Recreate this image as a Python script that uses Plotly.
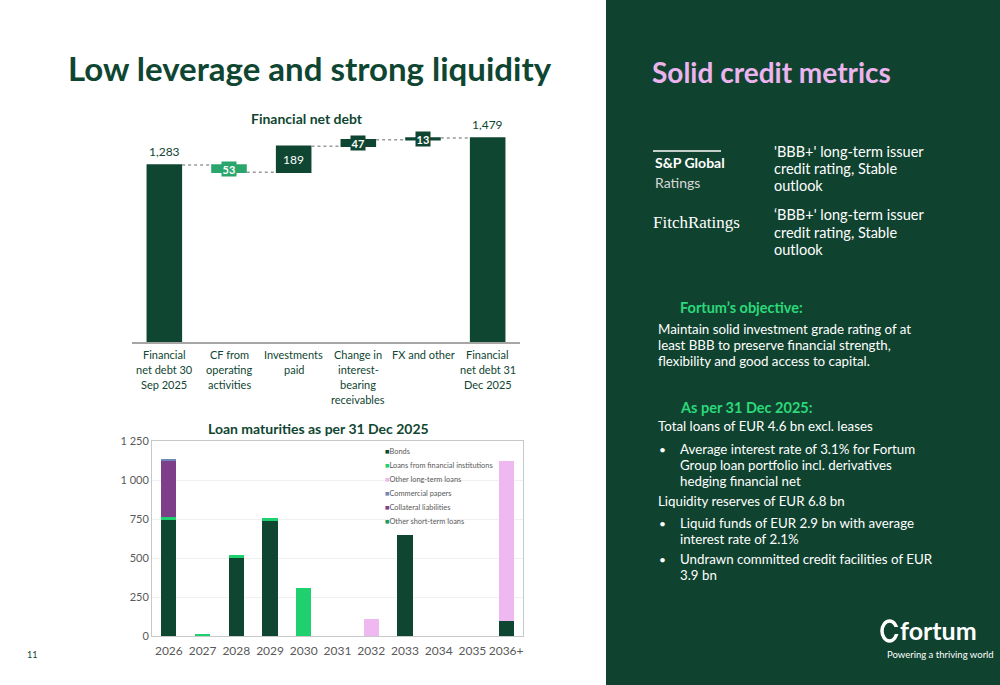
import plotly.graph_objects as go

W, H = 1000, 685
def px(x): return x / W
def py(y): return 1 - y / H

# ---------------- data ----------------
wf_categories = ["Financial<br>net debt 30<br>Sep 2025", "CF from<br>operating<br>activities",
                 "Investments<br>paid", "Change in<br>interest-<br>bearing<br>receivables",
                 "FX and other", "Financial<br>net debt 31<br>Dec 2025"]
wf_measures = ["absolute", "relative", "relative", "relative", "relative", "total"]
wf_values = [1283, -53, 189, 47, 13, 1479]

years = ["2026", "2027", "2028", "2029", "2030", "2031", "2032", "2033", "2034", "2035", "2036+"]
bonds =             [745, 0,  500, 740, 0,   0, 0,   650, 0, 0, 95]
loans_fi =          [18,  15, 18,  15,  310, 0, 0,   0,   0, 0, 0]
other_long_term =   [0,   0,  0,   0,   0,   0, 110, 0,   0, 0, 1030]
commercial_papers = [7,   0,  0,   0,   0,   0, 0,   0,   0, 0, 0]
collateral =        [362, 0,  0,   0,   0,   0, 0,   0,   0, 0, 0]
other_short_term =  [0,   0,  0,   0,   0,   0, 0,   0,   0, 0, 0]
y_ticks = [0, 250, 500, 750, 1000, 1250]
y_tick_labels = ["0", "250", "500", "750", "1 000", "1 250"]

DARK = "#0f4632"
MID_GREEN = "#2aa56b"
BRIGHT_GREEN = "#1ed06e"
PINK = "#efb8f0"
PURPLE = "#7d3f88"
SLATE = "#6f87b8"
TEAL = "#1a9a66"
GRAY_TXT = "#595959"
PANEL = "#10432f"
FONT = "Lato"

fig = go.Figure()

# ---------------- waterfall ----------------
fig.add_trace(go.Waterfall(
    x=wf_categories, y=wf_values, measure=wf_measures,
    increasing=dict(marker=dict(color=DARK)),
    decreasing=dict(marker=dict(color=MID_GREEN)),
    totals=dict(marker=dict(color=DARK)),
    connector=dict(line=dict(color="#9a9a9a", width=1.5, dash="dot")),
    textinfo="none", hoverinfo="skip",
    xaxis="x", yaxis="y", showlegend=False,
))

annotations = []
level = 0
for cat, m, v in zip(wf_categories, wf_measures, wf_values):
    # category label lines, 15 px apart below the axis
    for j, line in enumerate(cat.split("<br>")):
        annotations.append(dict(x=cat, y=0, xref="x", yref="y", text=line, showarrow=False,
                                yanchor="middle", yshift=-(12 + 15 * j),
                                font=dict(family=FONT, size=11, color=DARK)))
    if m == "absolute":
        level = v
        annotations.append(dict(x=cat, y=v, xref="x", yref="y", text=f"{v:,}",
                                showarrow=False, yanchor="bottom", yshift=4,
                                font=dict(family=FONT, size=12, color=DARK)))
    elif m == "total":
        annotations.append(dict(x=cat, y=level, xref="x", yref="y", text=f"{level:,}",
                                showarrow=False, yanchor="bottom", yshift=4,
                                font=dict(family=FONT, size=12, color=DARK)))
    else:
        start, end = level, level + v
        mid = (start + end) / 2
        col = DARK if v > 0 else MID_GREEN
        if abs(v) >= 100:
            annotations.append(dict(x=cat, y=mid, xref="x", yref="y", text=f"{abs(v)}",
                                    showarrow=False,
                                    font=dict(family=FONT, size=12, color="white")))
        else:
            annotations.append(dict(x=cat, y=mid, xref="x", yref="y", text=f"<b>{abs(v)}</b>",
                                    showarrow=False, bgcolor=col, borderpad=0.5,
                                    font=dict(family=FONT, size=11, color="white")))
        level = end

# ---------------- loan maturities ----------------
stack = [
    ("Bonds", bonds, DARK),
    ("Loans from financial institutions", loans_fi, BRIGHT_GREEN),
    ("Other long-term loans", other_long_term, PINK),
    ("Other short-term loans", other_short_term, TEAL),
    ("Collateral liabilities", collateral, PURPLE),
    ("Commercial papers", commercial_papers, SLATE),
]
for name, vals, col in stack:
    fig.add_trace(go.Bar(x=years, y=vals, name=name, marker=dict(color=col, line=dict(width=0)),
                         xaxis="x2", yaxis="y2", showlegend=False, hoverinfo="skip"))

legend_items = [("Bonds", DARK), ("Loans from financial institutions", BRIGHT_GREEN),
                ("Other long-term loans", PINK), ("Commercial papers", SLATE),
                ("Collateral liabilities", PURPLE), ("Other short-term loans", TEAL)]
for i, (name, col) in enumerate(legend_items):
    annotations.append(dict(x=px(383), y=py(452 + i * 13.8), xref="paper", yref="paper",
                            xanchor="left", yanchor="middle", showarrow=False,
                            text=f"<span style='color:{col}'>■</span>{name}",
                            font=dict(family=FONT, size=7.4, color=GRAY_TXT)))

# ---------------- text helpers ----------------
def txt(x, y, s, size, color, bold=False, family=FONT, anchor="left"):
    annotations.append(dict(x=px(x), y=py(y), xref="paper", yref="paper",
                            xanchor=anchor, yanchor="middle", showarrow=False,
                            text=f"<b>{s}</b>" if bold else s,
                            font=dict(family=family, size=size, color=color)))

# titles
txt(66, 68, "Low leverage and strong liquidity", 33, DARK, bold=True)
txt(307, 118, "Financial net debt", 14, DARK, bold=True, anchor="center")
txt(318, 428, "Loan maturities as per 31 Dec 2025", 14, DARK, bold=True, anchor="center")
txt(25, 654, "11", 9, DARK)

# right panel
txt(650, 72, "Solid credit metrics", 28, "#ebb4ee", bold=True)
txt(653, 163, "S&P Global", 14, "white", bold=True)
txt(653, 182, "Ratings", 14, "#d8d8d8")
txt(651, 222, "FitchRatings", 17, "white", family="Liberation Serif")
for i, line in enumerate(["'BBB+' long-term issuer", "credit rating, Stable", "outlook"]):
    txt(772, 151 + i * 17, line, 14.5, "white")
for i, line in enumerate(["‘BBB+' long-term issuer", "credit rating, Stable", "outlook"]):
    txt(772, 215 + i * 17, line, 14.5, "white")

GREEN_HEAD = "#2bd87a"
txt(678, 307, "Fortum’s objective:", 14.5, GREEN_HEAD, bold=True)
for i, line in enumerate(["Maintain solid investment grade rating of at",
                          "least BBB to preserve financial strength,",
                          "flexibility and good access to capital."]):
    txt(656, 329 + i * 16, line, 13.3, "white")
txt(678, 407, "As per 31 Dec 2025:", 14.5, GREEN_HEAD, bold=True)
txt(656, 426, "Total loans of EUR 4.6 bn excl. leases", 13.3, "white")
txt(657, 449, "•", 12, "white")
for i, line in enumerate(["Average interest rate of 3.1% for Fortum",
                          "Group loan portfolio incl. derivatives",
                          "hedging financial net"]):
    txt(678, 449 + i * 16, line, 13.3, "white")
txt(656, 501, "Liquidity reserves of EUR 6.8 bn", 13.3, "white")
txt(657, 523, "•", 12, "white")
for i, line in enumerate(["Liquid funds of EUR 2.9 bn with average", "interest rate of 2.1%"]):
    txt(678, 523 + i * 16, line, 13.3, "white")
txt(657, 559, "•", 12, "white")
for i, line in enumerate(["Undrawn committed credit facilities of EUR", "3.9 bn"]):
    txt(678, 559 + i * 16, line, 13.3, "white")

# logo
txt(898, 630, "fortum", 25, "white", bold=True)
txt(885, 654, "Powering a thriving world", 9.5, "white")

shapes = [
    dict(type="rect", xref="paper", yref="paper", x0=px(606), x1=1, y0=0, y1=1,
         fillcolor=PANEL, line=dict(width=0), layer="below"),
    dict(type="line", xref="paper", yref="paper", x0=px(653), x1=px(721), y0=py(151), y1=py(151),
         line=dict(color="white", width=1.5)),
    dict(type="circle", xref="paper", yref="paper", x0=px(882), x1=px(897), y0=py(641), y1=py(621),
         line=dict(color="white", width=3.5)),
    dict(type="rect", xref="paper", yref="paper", x0=px(891), x1=px(899), y0=py(634), y1=py(627),
         fillcolor=PANEL, line=dict(width=0)),
]

fig.update_layout(
    width=W, height=H, margin=dict(l=0, r=0, t=0, b=0, pad=0, autoexpand=False),
    paper_bgcolor="white", plot_bgcolor="rgba(0,0,0,0)",
    font=dict(family=FONT),
    barmode="stack", bargap=0.55, waterfallgap=0.45,
    annotations=annotations, shapes=shapes,
    xaxis=dict(domain=[px(132), px(520)], anchor="y", type="category",
               showline=True, linecolor="#a6a6a6", linewidth=1.5, automargin=False,
               ticks="", showgrid=False, zeroline=False, showticklabels=False),
    yaxis=dict(domain=[py(342), py(135)], range=[0, 1500], visible=False, fixedrange=True,
               automargin=False),
    xaxis2=dict(domain=[px(152), px(523)], anchor="y2", type="category", automargin=False,
                showline=True, mirror=True, linecolor="#c8c8c8", linewidth=1,
                ticks="", showgrid=False, zeroline=False, tickangle=0, ticklabelstandoff=4,
                tickfont=dict(family=FONT, size=12, color=GRAY_TXT)),
    yaxis2=dict(domain=[py(636), py(441)], range=[0, 1250], anchor="x2", automargin=False,
                tickvals=y_ticks, ticktext=y_tick_labels,
                showline=True, mirror=True, linecolor="#c8c8c8", linewidth=1,
                showgrid=True, gridcolor="#f0f0f0", zeroline=False, ticks="",
                tickfont=dict(family=FONT, size=11, color=GRAY_TXT)),
)

fig.write_html("out.html")
